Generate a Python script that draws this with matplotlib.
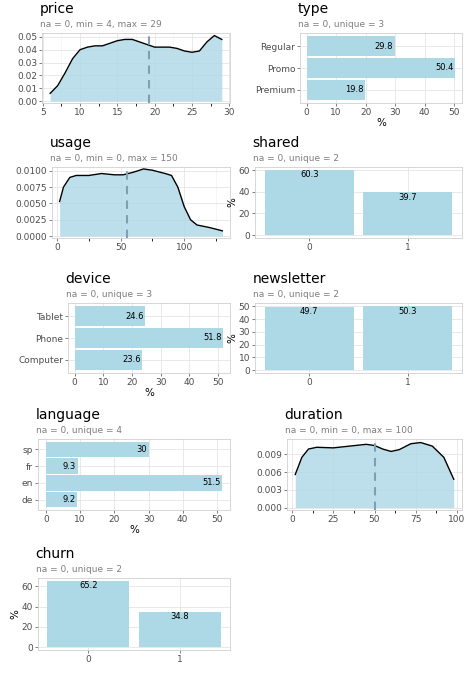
import numpy as np
import matplotlib.pyplot as plt

# density curves
price_x = [6, 7, 8, 9, 10, 11, 12, 13, 14, 15, 16, 17, 18, 19, 20, 21, 22, 23, 24, 25, 26, 27, 28, 29]
price_y = [0.006, 0.012, 0.022, 0.033, 0.040, 0.042, 0.043, 0.043, 0.045, 0.047, 0.048, 0.048, 0.046,
           0.044, 0.042, 0.042, 0.042, 0.041, 0.039, 0.038, 0.039, 0.046, 0.051, 0.048]
price_median = 19.2

usage_x = [2, 5, 10, 15, 25, 35, 45, 52, 60, 68, 75, 85, 90, 95, 100, 105, 110, 120, 130]
usage_y = [0.0053, 0.0075, 0.0090, 0.0093, 0.0093, 0.0096, 0.0094, 0.0094, 0.0098, 0.0103, 0.0101,
           0.0096, 0.0093, 0.0075, 0.0045, 0.0025, 0.0017, 0.0013, 0.0008]
usage_median = 55

duration_x = [2, 6, 10, 15, 25, 35, 45, 50, 55, 60, 65, 72, 78, 85, 92, 98]
duration_y = [0.0056, 0.0085, 0.0099, 0.0102, 0.0101, 0.0104, 0.0107, 0.0105, 0.0099, 0.0095, 0.0098,
              0.0108, 0.0110, 0.0104, 0.0085, 0.0048]
duration_median = 50

type_cats = ["Premium", "Promo", "Regular"]
type_pct = [19.8, 50.4, 29.8]
device_cats = ["Computer", "Phone", "Tablet"]
device_pct = [23.6, 51.8, 24.6]
language_cats = ["de", "en", "fr", "sp"]
language_pct = [9.2, 51.5, 9.3, 30]
shared_cats = ["0", "1"]
shared_pct = [60.3, 39.7]
newsletter_cats = ["0", "1"]
newsletter_pct = [49.7, 50.3]
churn_cats = ["0", "1"]
churn_pct = [65.2, 34.8]

W, H = 474, 677
FILL = "#add8e6"
fig = plt.figure(figsize=(W / 100, H / 100), dpi=100)


def make_ax(x0, y0, x1, y1, title, sub):
    ax = fig.add_axes([x0 / W, 1 - y1 / H, (x1 - x0) / W, (y1 - y0) / H])
    fig.text(x0 / W - 0.005, 1 - (y0 - 20) / H, title, fontsize=10, va="baseline")
    fig.text(x0 / W - 0.005, 1 - (y0 - 6) / H, sub, fontsize=6.5, color="#7f7f7f", va="baseline")
    for s in ax.spines.values():
        s.set_color("#d0d0d0")
        s.set_linewidth(0.6)
    ax.grid(True, color="#e5e5e5", lw=0.6)
    ax.set_axisbelow(True)
    ax.tick_params(labelsize=6.5, colors="#4d4d4d", length=2, width=0.5, pad=1.5)
    return ax


def density(ax, xs, ys, med, xlim, xticks, ylim, yticks, fmt):
    ax.fill_between(xs, ys, color=FILL, alpha=0.8, lw=0)
    ax.plot(xs, ys, color="black", lw=1)
    ax.axvline(med, color="#7f9fb0", ls=(0, (4, 3)), lw=1.5)
    ax.set_xlim(*xlim)
    ax.set_xticks(xticks)
    ax.set_ylim(*ylim)
    ax.set_yticks(yticks)
    ax.set_yticklabels([fmt.format(v) for v in yticks])
    ax.xaxis.set_minor_locator(plt.MultipleLocator((xticks[1] - xticks[0]) / 2))
    ax.grid(True, which="minor", color="#f0f0f0", lw=0.4)


def hbar(ax, cats, vals, xmax, xticks):
    pos = np.arange(len(cats))
    ax.barh(pos, vals, color=FILL, height=0.9)
    for p, v in zip(pos, vals):
        ax.text(v - 0.5, p, f"{v:g}", ha="right", va="center", fontsize=6)
    ax.set_yticks(pos)
    ax.set_yticklabels(cats)
    ax.set_ylim(-0.6, len(cats) - 0.4)
    ax.set_xlim(-xmax * 0.045, xmax * 1.045)
    ax.set_xticks(xticks)
    ax.set_xlabel("%", fontsize=7.5, labelpad=1)


def vbar(ax, cats, vals, ymax, yticks):
    pos = np.arange(len(cats))
    ax.bar(pos, vals, color=FILL, width=0.9)
    for p, v in zip(pos, vals):
        ax.text(p, v - 0.5, f"{v:g}", ha="center", va="top", fontsize=6)
    ax.set_xticks(pos)
    ax.set_xticklabels(cats)
    ax.set_xlim(-0.55, len(cats) - 0.45)
    ax.set_ylim(-ymax * 0.045, ymax * 1.045)
    ax.set_yticks(yticks)
    ax.set_ylabel("%", fontsize=7.5, labelpad=1)


ax = make_ax(42, 33, 230, 103, "price", "na = 0, min = 4, max = 29")
density(ax, price_x, price_y, price_median, (4.9, 30.1), [5, 10, 15, 20, 25, 30],
        (-0.0015, 0.053), [0, 0.01, 0.02, 0.03, 0.04, 0.05], "{:.2f}")

ax = make_ax(300, 33, 462, 103, "type", "na = 0, unique = 3")
hbar(ax, type_cats, type_pct, 50.4, [0, 10, 20, 30, 40, 50])

ax = make_ax(52, 167, 230, 238, "usage", "na = 0, min = 0, max = 150")
density(ax, usage_x, usage_y, usage_median, (-4, 136), [0, 50, 100],
        (-0.0003, 0.0106), [0, 0.0025, 0.005, 0.0075, 0.01], "{:.4f}")

ax = make_ax(255, 167, 462, 238, "shared", "na = 0, unique = 2")
vbar(ax, shared_cats, shared_pct, 60.3, [0, 20, 40, 60])

ax = make_ax(68, 303, 230, 373, "device", "na = 0, unique = 3")
hbar(ax, device_cats, device_pct, 51.8, [0, 10, 20, 30, 40, 50])

ax = make_ax(255, 303, 462, 373, "newsletter", "na = 0, unique = 2")
vbar(ax, newsletter_cats, newsletter_pct, 50.3, [0, 10, 20, 30, 40, 50])

ax = make_ax(38, 439, 230, 510, "language", "na = 0, unique = 4")
hbar(ax, language_cats, language_pct, 51.5, [0, 10, 20, 30, 40, 50])

ax = make_ax(287, 439, 462, 510, "duration", "na = 0, min = 0, max = 100")
density(ax, duration_x, duration_y, duration_median, (-3, 103), [0, 25, 50, 75, 100],
        (-0.0004, 0.0116), [0, 0.003, 0.006, 0.009], "{:.3f}")

ax = make_ax(38, 578, 230, 650, "churn", "na = 0, unique = 2")
vbar(ax, churn_cats, churn_pct, 65.2, [0, 20, 40, 60])

fig.savefig("out.png", dpi=100)
